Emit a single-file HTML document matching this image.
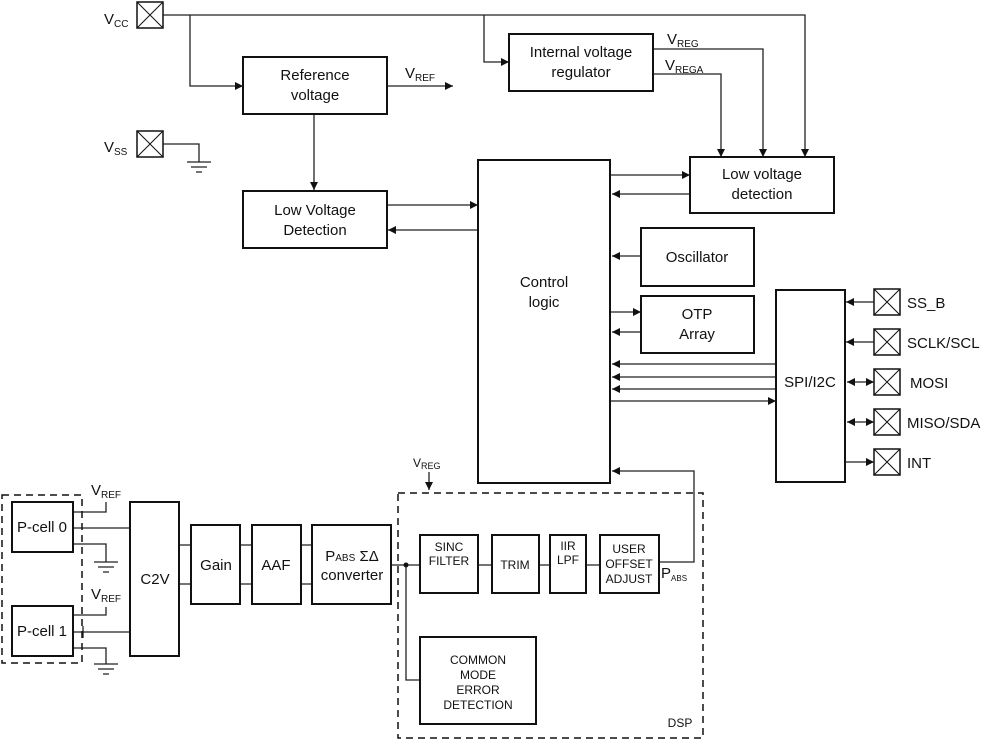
<!DOCTYPE html>
<html><head><meta charset="utf-8"><style>
html,body{margin:0;padding:0;background:#fff}
svg{display:block}
text{font-family:"Liberation Sans",sans-serif;fill:#111}
</style></head><body>
<svg width="989" height="749" viewBox="0 0 989 749" xmlns="http://www.w3.org/2000/svg">
<defs>
<marker id="a" viewBox="0 0 10 10" refX="10" refY="5" markerWidth="8" markerHeight="8" markerUnits="userSpaceOnUse" orient="auto"><path d="M0,0L10,5L0,10z" fill="#111"/></marker>
<marker id="s" viewBox="0 0 10 10" refX="0" refY="5" markerWidth="8" markerHeight="8" markerUnits="userSpaceOnUse" orient="auto"><path d="M10,0L0,5L10,10z" fill="#111"/></marker>
</defs>
<g fill="none" stroke="#222" stroke-width="1.3">
<polyline points="163,15 805,15 805,157" marker-end="url(#a)"/>
<polyline points="190,15 190,86 243,86" marker-end="url(#a)"/>
<polyline points="484,15 484,62 509,62" marker-end="url(#a)"/>
<line x1="387" y1="86" x2="453" y2="86" marker-end="url(#a)"/>
<polyline points="163,144 199,144 199,162"/>
<line x1="314" y1="114" x2="314" y2="190" marker-end="url(#a)"/>
<line x1="387" y1="205" x2="478" y2="205" marker-end="url(#a)"/>
<line x1="478" y1="230" x2="388" y2="230" marker-end="url(#a)"/>
<polyline points="653,49 763,49 763,157" marker-end="url(#a)"/>
<polyline points="653,74 721,74 721,157" marker-end="url(#a)"/>
<line x1="611" y1="175" x2="690" y2="175" marker-end="url(#a)"/>
<line x1="690" y1="194" x2="612" y2="194" marker-end="url(#a)"/>
<line x1="641" y1="256" x2="612" y2="256" marker-end="url(#a)"/>
<line x1="611" y1="312" x2="641" y2="312" marker-end="url(#a)"/>
<line x1="641" y1="332" x2="612" y2="332" marker-end="url(#a)"/>
<line x1="776" y1="364" x2="612" y2="364" marker-end="url(#a)"/>
<line x1="776" y1="377" x2="612" y2="377" marker-end="url(#a)"/>
<line x1="776" y1="389" x2="612" y2="389" marker-end="url(#a)"/>
<line x1="611" y1="401" x2="776" y2="401" marker-end="url(#a)"/>
<line x1="874" y1="302" x2="846" y2="302" marker-end="url(#a)"/>
<line x1="874" y1="342" x2="846" y2="342" marker-end="url(#a)"/>
<line x1="847" y1="382" x2="874" y2="382" marker-end="url(#a)" marker-start="url(#s)"/>
<line x1="847" y1="422" x2="874" y2="422" marker-end="url(#a)" marker-start="url(#s)"/>
<line x1="846" y1="462" x2="874" y2="462" marker-end="url(#a)"/>
<polyline points="659,562 694,562 694,471 612,471" marker-end="url(#a)"/>
<line x1="429" y1="472" x2="429" y2="490" marker-end="url(#a)"/>
<path d="M187,162h24M191,167h16M196,172h6"/>
<line x1="73" y1="528" x2="130" y2="528"/>
<line x1="73" y1="632" x2="130" y2="632"/>
<polyline points="73,512 106,512 106,502"/>
<polyline points="73,544 106,544 106,562"/>
<path d="M94,562h24M98,567h16M103,572h6"/>
<polyline points="73,615 106,615 106,607"/>
<polyline points="73,648 106,648 106,664"/>
<path d="M94,664h24M98,669h16M103,674h6"/>
<path d="M83,626v12"/>
<path d="M179,545h12M179,584h12M240,545h12M240,584h12M301,545h11M301,584h11"/>
<line x1="391" y1="565" x2="420" y2="565"/>
<polyline points="406,565 406,680 420,680"/>
<path d="M478,565h14M539,565h11M586,565h14"/>
<path d="M440,572h12l8,15M561,572h7l8,15"/>
</g>
<circle cx="406" cy="565" r="2.5" fill="#111"/>
<g fill="none" stroke="#111" stroke-width="1.5" stroke-dasharray="7,5">
<rect x="2" y="495" width="80" height="168"/>
<rect x="398" y="493" width="305" height="245"/>
</g>
<g fill="#fff" stroke="#111" stroke-width="2">
<rect x="243" y="57" width="144" height="57"/>
<rect x="243" y="191" width="144" height="57"/>
<rect x="509" y="34" width="144" height="57"/>
<rect x="690" y="157" width="144" height="56"/>
<rect x="478" y="160" width="132" height="323"/>
<rect x="641" y="228" width="113" height="58"/>
<rect x="641" y="296" width="113" height="57"/>
<rect x="776" y="290" width="69" height="192"/>
<rect x="12" y="502" width="61" height="50"/>
<rect x="12" y="606" width="61" height="50"/>
<rect x="130" y="502" width="49" height="154"/>
<rect x="191" y="525" width="49" height="79"/>
<rect x="252" y="525" width="49" height="79"/>
<rect x="312" y="525" width="79" height="79"/>
<rect x="420" y="535" width="58" height="58"/>
<rect x="492" y="535" width="47" height="58"/>
<rect x="550" y="535" width="36" height="58"/>
<rect x="600" y="535" width="59" height="58"/>
<rect x="420" y="637" width="116" height="87"/>
</g>
<g fill="#fff" stroke="#111" stroke-width="1.5">
<g transform="translate(137,2)"><rect width="26" height="26"/><path d="M0,0L26,26M26,0L0,26" stroke-width="1"/></g>
<g transform="translate(137,131)"><rect width="26" height="26"/><path d="M0,0L26,26M26,0L0,26" stroke-width="1"/></g>
<g transform="translate(874,289)"><rect width="26" height="26"/><path d="M0,0L26,26M26,0L0,26" stroke-width="1"/></g>
<g transform="translate(874,329)"><rect width="26" height="26"/><path d="M0,0L26,26M26,0L0,26" stroke-width="1"/></g>
<g transform="translate(874,369)"><rect width="26" height="26"/><path d="M0,0L26,26M26,0L0,26" stroke-width="1"/></g>
<g transform="translate(874,409)"><rect width="26" height="26"/><path d="M0,0L26,26M26,0L0,26" stroke-width="1"/></g>
<g transform="translate(874,449)"><rect width="26" height="26"/><path d="M0,0L26,26M26,0L0,26" stroke-width="1"/></g>
</g>
<g font-size="15" text-anchor="middle">
<text x="315" y="80">Reference</text><text x="315" y="100">voltage</text>
<text x="315" y="215">Low Voltage</text><text x="315" y="235">Detection</text>
<text x="581" y="57">Internal voltage</text><text x="581" y="77">regulator</text>
<text x="762" y="179">Low voltage</text><text x="762" y="199">detection</text>
<text x="544" y="287">Control</text><text x="544" y="307">logic</text>
<text x="697" y="262">Oscillator</text>
<text x="697" y="319">OTP</text><text x="697" y="339">Array</text>
<text x="810" y="387">SPI/I2C</text>
<text x="42" y="532">P-cell 0</text><text x="42" y="636">P-cell 1</text>
<text x="155" y="584">C2V</text>
<text x="216" y="570">Gain</text>
<text x="276" y="570">AAF</text>
<text x="352" y="561">P<tspan font-size="10">ABS</tspan> ΣΔ</text><text x="352" y="580">converter</text>
</g>
<g font-size="12" text-anchor="middle">
<text x="449" y="551">SINC</text><text x="449" y="565">FILTER</text>
<text x="515" y="569">TRIM</text>
<text x="568" y="550">IIR</text><text x="568" y="564">LPF</text>
<text x="629" y="553">USER</text><text x="629" y="568">OFFSET</text><text x="629" y="583">ADJUST</text>
<text x="478" y="664">COMMON</text><text x="478" y="679">MODE</text><text x="478" y="694">ERROR</text><text x="478" y="709">DETECTION</text>
<text x="680" y="727">DSP</text>
</g>
<g font-size="15">
<text x="104" y="24">V<tspan font-size="10" dy="3">CC</tspan></text>
<text x="104" y="152">V<tspan font-size="10" dy="3">SS</tspan></text>
<text x="405" y="78">V<tspan font-size="10" dy="3">REF</tspan></text>
<text x="667" y="44">V<tspan font-size="10" dy="3">REG</tspan></text>
<text x="665" y="70">V<tspan font-size="10" dy="3">REGA</tspan></text>
<text x="91" y="495">V<tspan font-size="10" dy="3">REF</tspan></text>
<text x="91" y="599">V<tspan font-size="10" dy="3">REF</tspan></text>
<text x="413" y="467" font-size="12">V<tspan font-size="9" dy="2">REG</tspan></text>
<text x="661" y="578">P<tspan font-size="8" dy="3">ABS</tspan></text>
<text x="907" y="308">SS_B</text>
<text x="907" y="348">SCLK/SCL</text>
<text x="910" y="388">MOSI</text>
<text x="907" y="428">MISO/SDA</text>
<text x="907" y="468">INT</text>
</g>
</svg>
</body></html>
